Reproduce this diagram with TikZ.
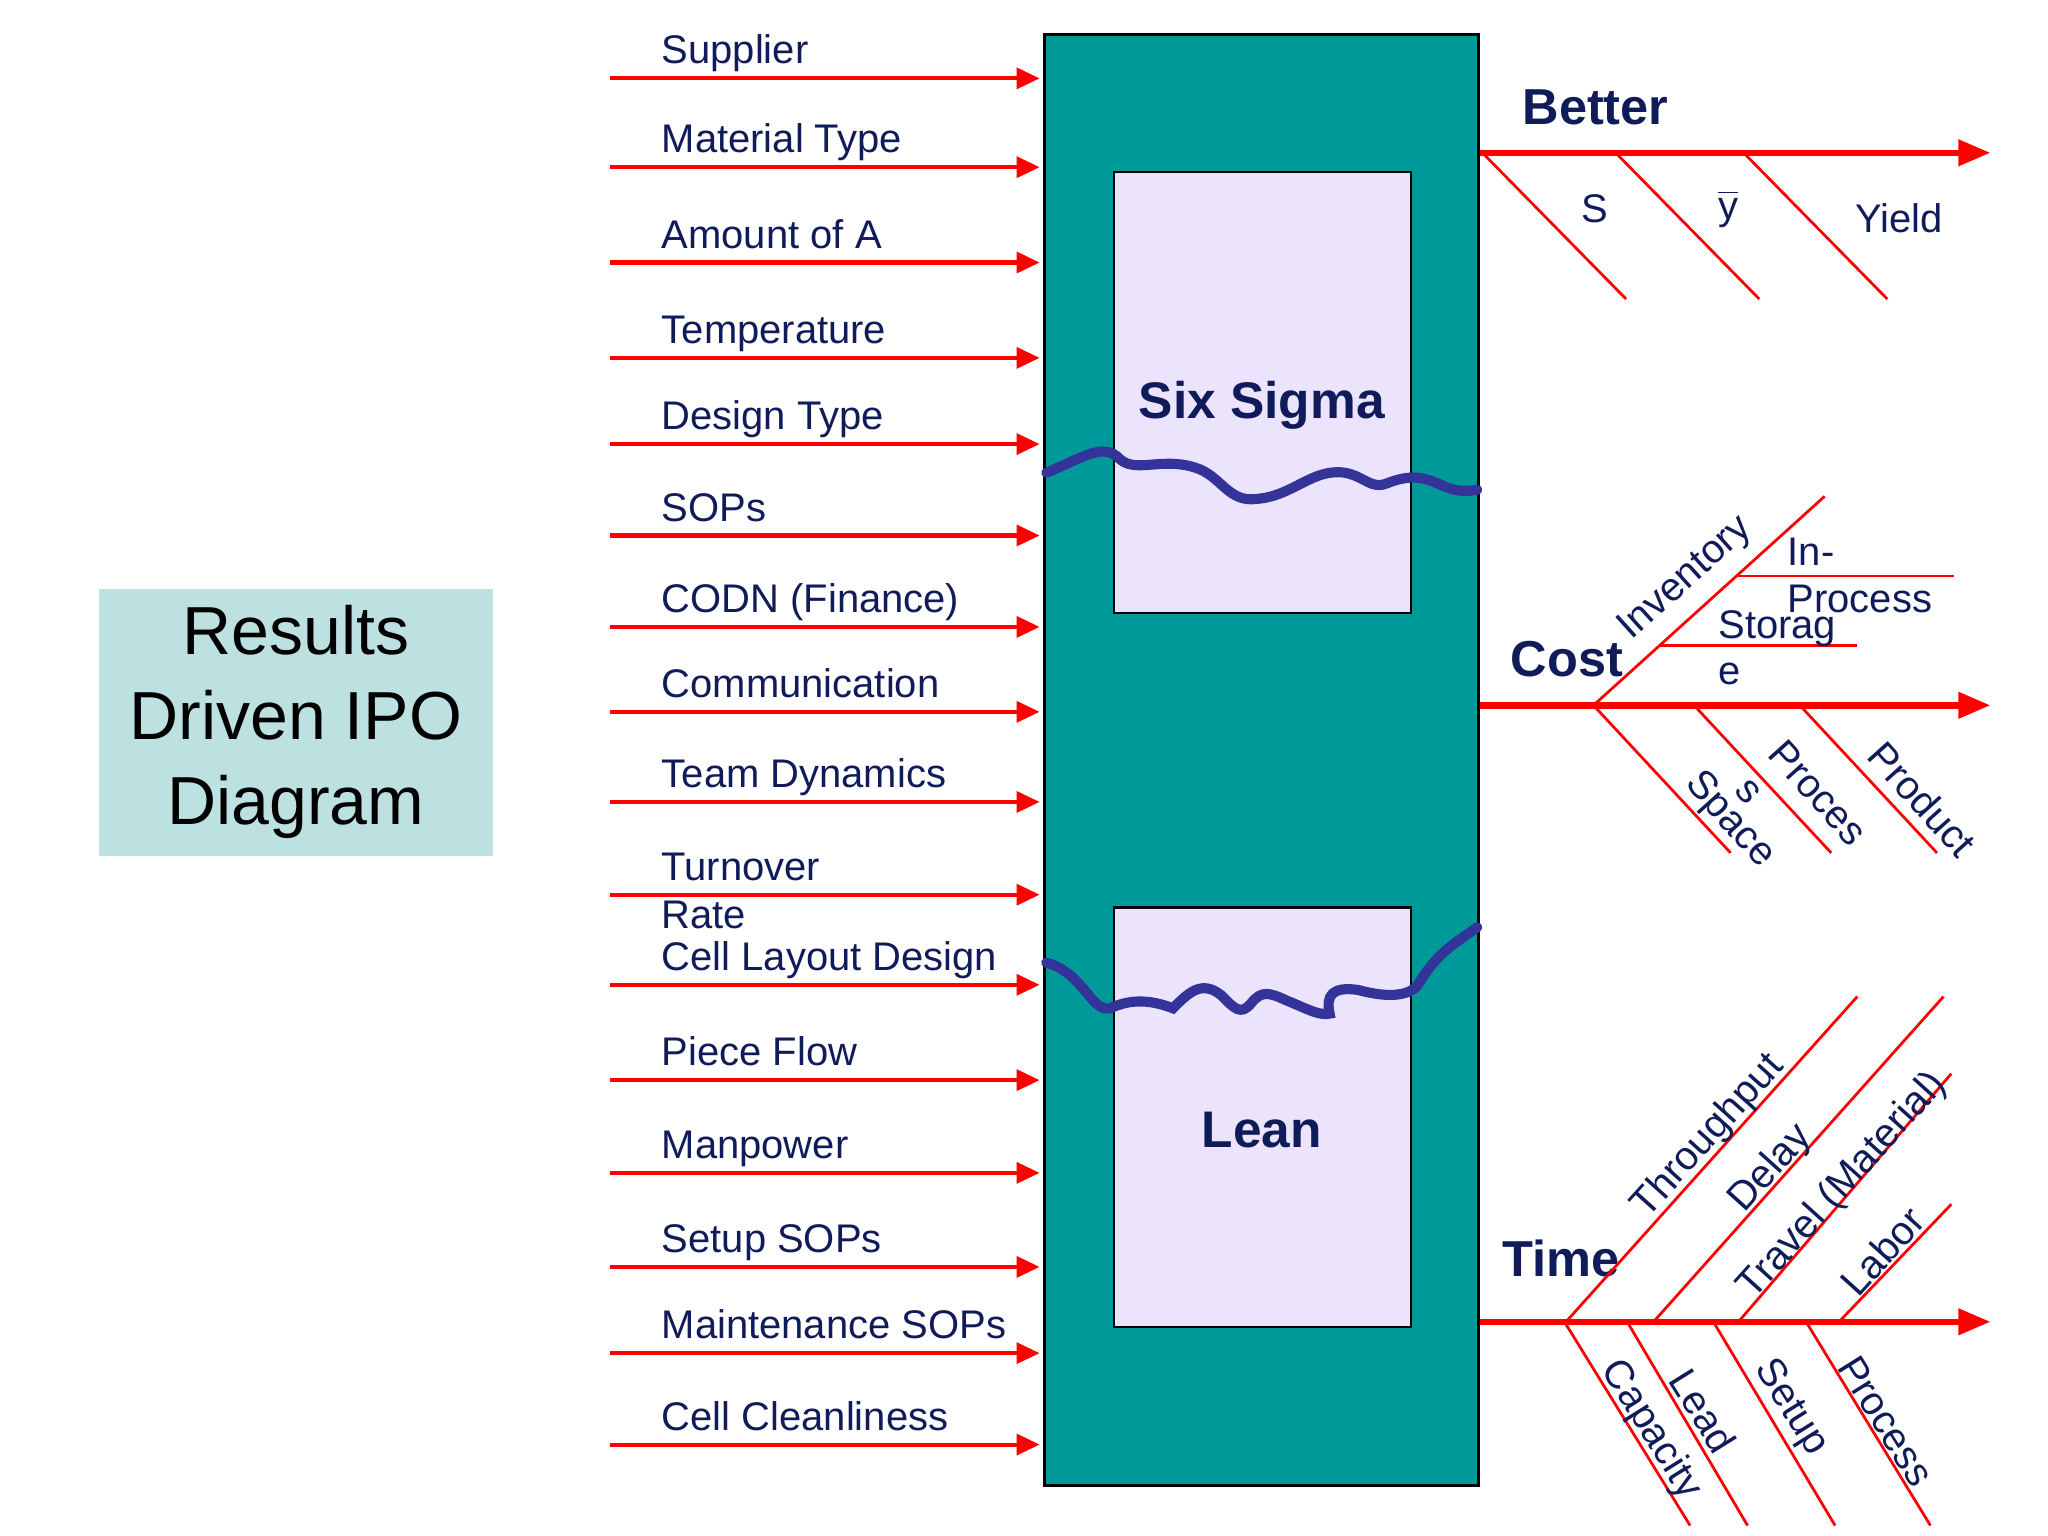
\documentclass[tikz,border=0pt]{standalone}
\usepackage{fontspec}
\setmainfont{Liberation Sans}
\usetikzlibrary{arrows.meta}
\definecolor{navy}{RGB}{16,28,90}
\definecolor{teal2}{RGB}{0,153,153}
\definecolor{lav}{RGB}{236,228,252}
\definecolor{titlebg}{RGB}{189,224,224}
\definecolor{wave}{RGB}{51,51,153}
\tikzset{
 inarrow/.style={red,line width=0.9pt,-{Triangle[length=5pt,width=4.5pt]}},
 inlabel/.style={anchor=base west,text=navy,font=\fontsize{8.7pt}{10pt}\selectfont,inner sep=0},
 spine/.style={red,line width=1.4pt,-{Triangle[length=7pt,width=5.5pt]}},
 bone/.style={red,line width=0.6pt},
 bonelabel/.style={text=navy,font=\fontsize{8.7pt}{10pt}\selectfont,inner sep=1pt},
 headlabel/.style={text=navy,font=\bfseries\fontsize{11pt}{12pt}\selectfont},
 wavy/.style={wave,line width=2.2pt,line cap=round}
}
\begin{document}
\begin{tikzpicture}[x=0.01cm,y=-0.01cm]
\useasboundingbox (0,0) rectangle (1568,1176);
% title
\node[fill=titlebg,text=black,align=center,font=\fontsize{14.8pt}{18.5pt}\selectfont,inner sep=0,minimum width=3.01cm,minimum height=2.04cm] (title) at (226.5,553) {Results\\Driven IPO\\Diagram};
% central block
\node[draw=black,fill=teal2,line width=0.6pt,minimum width=3.32cm,minimum height=11.1cm,inner sep=0] (block) at (966,582) {};
\node[draw=black,fill=lav,line width=0.5pt,minimum width=2.27cm,minimum height=3.37cm,inner sep=0] (six) at (966.5,300.5) {};
\node[draw=black,fill=lav,line width=0.5pt,minimum width=2.27cm,minimum height=3.21cm,inner sep=0] (lean) at (966.5,855.5) {};
\node[headlabel,font=\bfseries\fontsize{11.2pt}{12pt}\selectfont] (sixt) at (966,310) {Six Sigma};
\node[headlabel,font=\bfseries\fontsize{11.2pt}{12pt}\selectfont] (leant) at (966,865) {Lean};
% waves
\draw[wavy] (801,362) .. controls (830,350) and (845,338) .. (858,352) .. controls (870,362) and (890,350) .. (915,358)
 .. controls (935,364) and (940,385) .. (962,382) .. controls (990,380) and (1005,358) .. (1030,362)
 .. controls (1045,365) and (1050,375) .. (1062,370) .. controls (1080,363) and (1090,365) .. (1105,372) .. controls (1115,377) and (1125,376) .. (1131,375);
\draw[wavy] (801,737) .. controls (830,745) and (835,775) .. (850,772) .. controls (865,765) and (880,765) .. (898,772)
 .. controls (910,760) and (920,750) .. (935,762) .. controls (945,772) and (950,778) .. (958,768) .. controls (966,758) and (972,760) .. (985,766)
 .. controls (1000,772) and (1010,778) .. (1018,776) .. controls (1015,762) and (1020,755) .. (1040,758)
 .. controls (1055,762) and (1075,765) .. (1085,755) .. controls (1100,730) and (1110,725) .. (1131,710);
% inputs
\foreach \y/\t [count=\i] in {60/Supplier,128/Material Type,201/Amount of A,274/Temperature,340/Design Type,410/SOPs,480/CODN (Finance),545/Communication,614/Team Dynamics,685/Turnover,754/Cell Layout Design,827/Piece Flow,898/Manpower,970/Setup SOPs,1036/Maintenance SOPs,1106/Cell Cleanliness}{
 \coordinate (s\i) at (467,\y);
 \coordinate (e\i) at (796,\y);
 \draw[inarrow] (s\i) -- (e\i);
 \node[inlabel] (l\i) at (506,\y-11) {\t};
}
\node[inlabel] (rate) at (506,711) {Rate};
% Better
\coordinate (b0) at (1133,117); \coordinate (b1) at (1524,117);
\draw[spine] (b0) -- (b1);
\node[headlabel,anchor=base west,inner sep=0] (better) at (1165,95) {Better};
\foreach \x/\n in {1135/ba,1237/bb,1335/bc}{\coordinate (\n0) at (\x,117); \coordinate (\n1) at (\x+110,229); \draw[bone] (\n0) -- (\n1);}
\node[bonelabel] (ls) at (1221,160) {S};
\node[bonelabel] (ly) at (1323,160) {$\overline{\mbox{y}}$};
\node[bonelabel] (lyield) at (1454,167) {Yield};
% Cost
\coordinate (c0) at (1133,540); \coordinate (c1) at (1524,540);
\draw[spine] (c0) -- (c1);
\node[headlabel,anchor=base west,inner sep=0] (cost) at (1156,518) {Cost};
\coordinate (ci0) at (1220,540); \coordinate (ci1) at (1397,380);
\draw[bone] (ci0) -- (ci1);
\coordinate (cp0) at (1331,441); \coordinate (cp1) at (1496,441);
\coordinate (cs0) at (1271,494); \coordinate (cs1) at (1422,494);
\draw[bone] (cp0) -- (cp1); \draw[bone] (cs0) -- (cs1);
\node[bonelabel,rotate=42] (linv) at (1291,443) {Inventory};
\node[bonelabel,anchor=base west,inner sep=0,align=left] (linp) at (1368,433) {In-};
\node[bonelabel,anchor=base west,inner sep=0] (linp2) at (1368,469) {Process};
\node[bonelabel,anchor=base west,inner sep=0] (lsto) at (1315,489) {Storag};
\node[bonelabel,anchor=base west,inner sep=0] (lsto2) at (1315,524) {e};
\foreach \x/\n in {1220/ca,1297/cb,1378/cc}{\coordinate (\n0) at (\x,540); \coordinate (\n1) at (\x+105,113+540); \draw[bone] (\n0) -- (\n1);}
\node[bonelabel,rotate=-48] (lspace) at (1324,628) {Space};
\node[bonelabel,rotate=-48] (ls2) at (1338,606) {s};
\node[bonelabel,rotate=-48] (lproc) at (1392,607) {Proces};
\node[bonelabel,rotate=-48] (lprod) at (1472,612) {Product};
% Time
\coordinate (t0) at (1133,1012); \coordinate (t1) at (1524,1012);
\draw[spine] (t0) -- (t1);
\node[headlabel,anchor=base west,inner sep=0] (time) at (1150,977) {Time};
\foreach \x/\ex/\ey/\n in {1199/1422/763/ta,1266/1488/763/tb,1331/1494/822/tc,1408/1494/922/td}{\coordinate (\n0) at (\x,1012); \coordinate (\n1) at (\ex,\ey); \draw[bone] (\n0) -- (\n1);}
\node[bonelabel,rotate=48] (lthr) at (1308,870) {Throughput};
\node[bonelabel,rotate=48] (ldel) at (1356,895) {Delay};
\node[bonelabel,rotate=48] (ltra) at (1411,908) {Travel (Material)};
\node[bonelabel,rotate=48] (llab) at (1441,958) {Labor};
\foreach \x/\ex/\n in {1199/1294/tw,1247/1338/tx,1313/1405/ty,1384/1478/tz}{\coordinate (\n0) at (\x,1014); \coordinate (\n1) at (\ex,1168); \draw[bone] (\n0) -- (\n1);}
\node[bonelabel,rotate=-58] (lcap) at (1264,1095) {Capacity};
\node[bonelabel,rotate=-58] (llead) at (1304,1080) {Lead};
\node[bonelabel,rotate=-58] (lsetup) at (1371,1078) {Setup};
\node[bonelabel,rotate=-58] (lprocs) at (1444,1088) {Process};
\end{tikzpicture}
\end{document}
